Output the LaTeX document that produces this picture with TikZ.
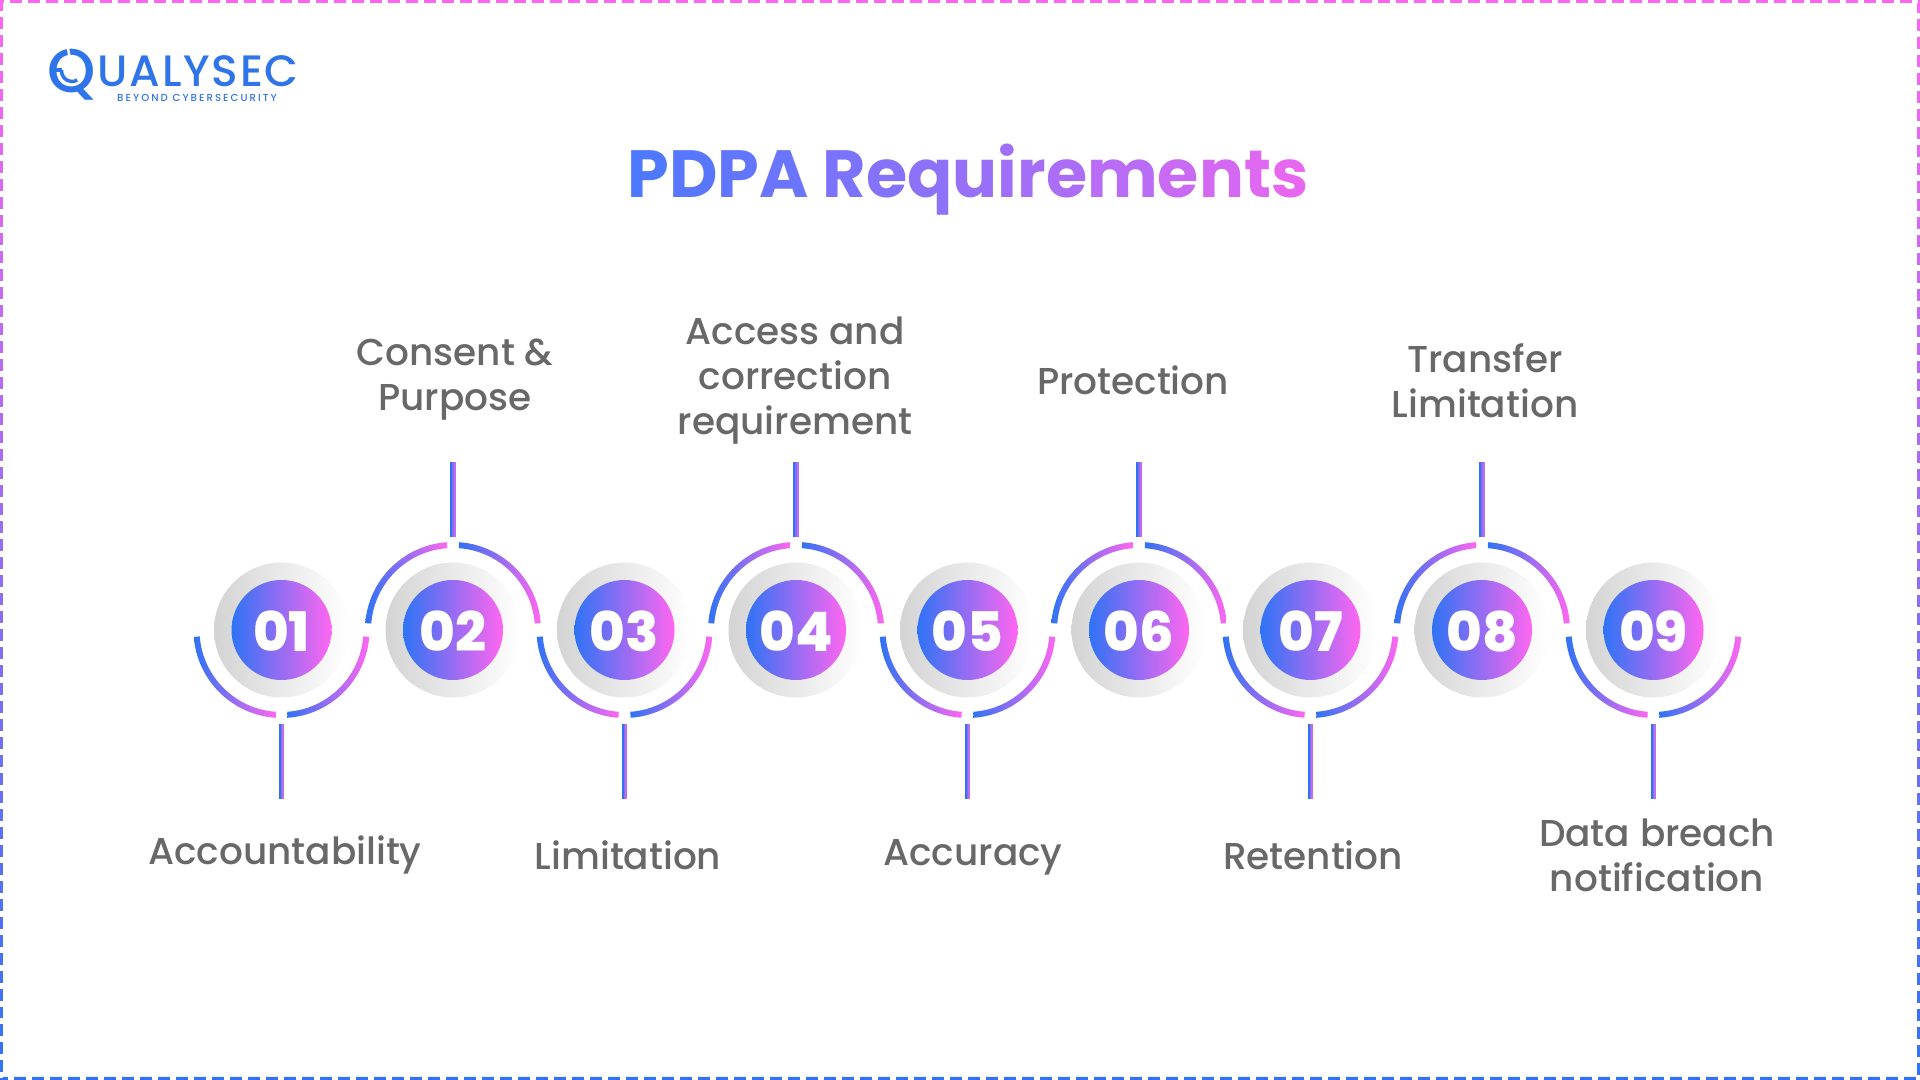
\documentclass[tikz,border=0pt]{standalone}
\usepackage{fontspec}
\setmainfont{Poppins}
\newfontfamily\mediumfont{Poppins Medium}
\newfontfamily\heavyfont{Poppins ExtraBold}
\usetikzlibrary{calc}
\definecolor{qblue}{HTML}{2F73F5}
\definecolor{qpink}{HTML}{FF66F0}
\definecolor{qmid}{HTML}{8A6CF0}
\definecolor{qlilac}{HTML}{C06CF0}
\definecolor{qlogo}{HTML}{2F74E8}
\definecolor{qtext}{HTML}{686868}
\definecolor{tblue}{HTML}{4E78FF}
\definecolor{tpink}{HTML}{EE66F0}
\begin{document}
\begin{tikzpicture}[
    disc_node/.style={circle,inner sep=0pt,minimum size=1.35cm,left color=black!17,right color=white},
    number_node/.style={circle,inner sep=0pt,minimum size=1cm,left color=qblue,right color=qpink,text=white,text height=.43cm,text depth=0cm,font=\heavyfont\fontsize{15.5}{16}\selectfont},
    label_text/.style={align=center,inner sep=0pt,text=qtext,font=\mediumfont\fontsize{10.65}{12.8}\selectfont},
    title_text/.style={inner sep=0pt,font=\fontsize{19}{20}\selectfont\bfseries},
    logo_text/.style={inner sep=0pt,text=qlogo},
    logo_arc/.style={qlogo,line width=.035cm},
    arc_shade/.style={left color=qblue,right color=qpink},
    stem_line/.style={line width=.055cm,draw=qmid,
      postaction={draw=qblue,line width=.018cm,transform canvas={xshift=-.018cm}},
      postaction={draw=qlilac,line width=.018cm,transform canvas={xshift=.018cm}}},
    lower_wave/.pic={
      \shade[arc_shade] (-175.5:.88) arc (-175.5:-94:.88) -- (-94:.82) arc (-94:-175.5:.82) -- cycle;
      \shade[arc_shade] (-86:.88) arc (-86:-4.5:.88) -- (-4.5:.82) arc (-4.5:-86:.82) -- cycle;},
    upper_wave/.pic={
      \shade[arc_shade] (175.5:.88) arc (175.5:94:.88) -- (94:.82) arc (94:175.5:.82) -- cycle;
      \shade[arc_shade] (86:.88) arc (86:4.5:.88) -- (4.5:.82) arc (4.5:86:.82) -- cycle;}]
  \useasboundingbox (0,0) rectangle (19.20,10.80);
  % frame
  \shade[top color=qpink,bottom color=qblue,even odd rule] (0,0) rectangle (19.20,10.80) (0.03,0.03) rectangle (19.17,10.77);
  \draw[white,line width=.04cm,dash pattern=on .06cm off .12cm] (0.015,0.015) rectangle (19.185,10.785);
  % logo
  \node[logo_text,font=\mediumfont\fontsize{17.5}{17.5}\selectfont] (logoq) at (0.72,10.05) {Q};
  \node[logo_text,anchor=west,font=\mediumfont\fontsize{12.5}{12.5}\selectfont\addfontfeature{LetterSpace=4}] (logoname) at (0.97,10.09) {UALYSEC};
  \node[logo_text,font=\mediumfont\fontsize{2.9}{3}\selectfont\addfontfeature{LetterSpace=20}] (logosub) at (1.97,9.82) {BEYOND CYBERSECURITY};
  \coordinate (qcentre) at (0.72,10.09);
  \draw[logo_arc] ($(qcentre)+(175:.105)$) arc (175:300:.105);
  \draw[logo_arc] ($(qcentre)+(175:.105)$) -- ++(-.06,0);
  \draw[white,line width=.025cm] ($(qcentre)+(100:.13)$) -- ($(qcentre)+(100:.25)$);
  % title
  \node[title_text] (title) at (9.68,9.00) {\textcolor{tblue!100!tpink}{P}\textcolor{tblue!94!tpink}{D}\textcolor{tblue!88!tpink}{P}\textcolor{tblue!82!tpink}{A} \textcolor{tblue!72!tpink}{R}\textcolor{tblue!66!tpink}{e}\textcolor{tblue!60!tpink}{q}\textcolor{tblue!54!tpink}{u}\textcolor{tblue!49!tpink}{i}\textcolor{tblue!46!tpink}{r}\textcolor{tblue!41!tpink}{e}\textcolor{tblue!33!tpink}{m}\textcolor{tblue!24!tpink}{e}\textcolor{tblue!17!tpink}{n}\textcolor{tblue!10!tpink}{t}\textcolor{tblue!4!tpink}{s}};
  % discs
  \node[disc_node] (disc1) at (2.815,4.50) {};
  \node[disc_node] (disc2) at (4.53,4.50) {};
  \node[disc_node] (disc3) at (6.245,4.50) {};
  \node[disc_node] (disc4) at (7.96,4.50) {};
  \node[disc_node] (disc5) at (9.675,4.50) {};
  \node[disc_node] (disc6) at (11.39,4.50) {};
  \node[disc_node] (disc7) at (13.105,4.50) {};
  \node[disc_node] (disc8) at (14.82,4.50) {};
  \node[disc_node] (disc9) at (16.535,4.50) {};
  % numbers
  \node[number_node] (badge1) at (disc1) {01};
  \node[number_node] (badge2) at (disc2) {02};
  \node[number_node] (badge3) at (disc3) {03};
  \node[number_node] (badge4) at (disc4) {04};
  \node[number_node] (badge5) at (disc5) {05};
  \node[number_node] (badge6) at (disc6) {06};
  \node[number_node] (badge7) at (disc7) {07};
  \node[number_node] (badge8) at (disc8) {08};
  \node[number_node] (badge9) at (disc9) {09};
  % arcs
  \pic (wave1) at (disc1) {lower_wave};
  \pic (wave2) at (disc2) {upper_wave};
  \pic (wave3) at (disc3) {lower_wave};
  \pic (wave4) at (disc4) {upper_wave};
  \pic (wave5) at (disc5) {lower_wave};
  \pic (wave6) at (disc6) {upper_wave};
  \pic (wave7) at (disc7) {lower_wave};
  \pic (wave8) at (disc8) {upper_wave};
  \pic (wave9) at (disc9) {lower_wave};
  % labels
  \node[label_text] (label1) at (2.85,2.25) {Accountability};
  \node[label_text] (label2) at (4.55,7.00) {Consent \&\\Purpose};
  \node[label_text] (label3) at (6.28,2.245) {Limitation};
  \node[label_text] (label4) at (7.95,6.995) {Access and\\correction\\requirement};
  \node[label_text] (label5) at (9.73,2.225) {Accuracy};
  \node[label_text] (label6) at (11.33,7.00) {Protection};
  \node[label_text] (label7) at (13.13,2.245) {Retention};
  \node[label_text] (label8) at (14.85,6.99) {Transfer\\Limitation};
  \node[label_text] (label9) at (16.57,2.245) {Data breach\\notification};
  % stems
  \coordinate (end1) at (2.815,2.81);
  \coordinate (end2) at (4.53,6.18);
  \coordinate (end3) at (6.245,2.81);
  \coordinate (end4) at (7.96,6.18);
  \coordinate (end5) at (9.675,2.81);
  \coordinate (end6) at (11.39,6.18);
  \coordinate (end7) at (13.105,2.81);
  \coordinate (end8) at (14.82,6.18);
  \coordinate (end9) at (16.535,2.81);
  \draw[stem_line] ([yshift=-.43cm]badge1.south) -- (end1);
  \draw[stem_line] ([yshift=.42cm]badge2.north) -- (end2);
  \draw[stem_line] ([yshift=-.43cm]badge3.south) -- (end3);
  \draw[stem_line] ([yshift=.42cm]badge4.north) -- (end4);
  \draw[stem_line] ([yshift=-.43cm]badge5.south) -- (end5);
  \draw[stem_line] ([yshift=.42cm]badge6.north) -- (end6);
  \draw[stem_line] ([yshift=-.43cm]badge7.south) -- (end7);
  \draw[stem_line] ([yshift=.42cm]badge8.north) -- (end8);
  \draw[stem_line] ([yshift=-.43cm]badge9.south) -- (end9);
\end{tikzpicture}
\end{document}
